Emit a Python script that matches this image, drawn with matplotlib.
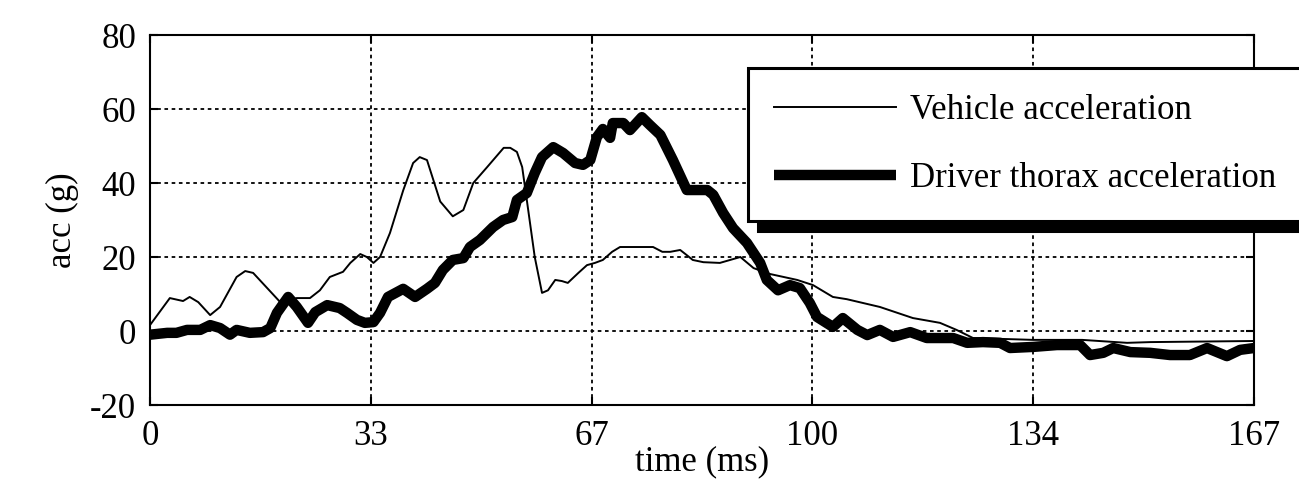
import numpy as np
import matplotlib
matplotlib.use("Agg")
import matplotlib.pyplot as plt

# time (ms) / acceleration (g)
t_vehicle = [0, 3, 5, 6, 7.3, 9.1, 10.6, 13.1, 14.4, 15.6, 19.7, 22.2, 24.2, 25.7,
             27.2, 29.2, 30.3, 31.8, 32.8, 33.8, 34.8, 36.3, 38.3, 39.8, 40.8, 41.9,
             43.9, 45.8, 47.4, 48.9, 51, 53.5, 54.5, 55.5, 56.3, 57, 58.2, 59.3,
             60.2, 61.3, 62.3, 63.2, 64.8, 66.1, 67.3, 68.5, 69.9, 71.1, 76.1, 77.5,
             78.7, 80.2, 81.2, 82.1, 83.7, 86.2, 89.3, 91.3, 93.8, 97.9, 100.3,
             103.3, 105.4, 110.4, 115.4, 119.5, 122, 124.5, 133.6, 141, 147.8,
             151.3, 167]
acc_vehicle = [1.6, 8.9, 8.1, 9.2, 7.8, 4.3, 6.5, 14.6, 16.2, 15.7, 7.8, 8.9, 8.9, 11,
               14.6, 16, 18.4, 20.8, 20, 18.4, 20, 26.5, 38, 45.4, 47, 46.2,
               35, 31, 32.7, 40, 44.3, 49.5, 49.5, 48.4, 44.3, 35.4, 20, 10.3,
               11, 13.8, 13.5, 13, 15.7, 17.8, 18.4, 19.2, 21.4, 22.7, 22.7, 21.4,
               21.4, 21.9, 20.5, 19.2, 18.6, 18.4, 20, 17, 15.4, 13.8, 12.4,
               9.2, 8.6, 6.5, 3.5, 2.2, 0.3, -1.9, -2.4, -2.4, -3.2,
               -3, -2.7]

t_thorax = [0, 2.6, 4, 5.6, 7.6, 9.1, 10.6, 12.1, 13.1, 15.1, 17.1, 18.2, 19.2, 20.9,
            22.2, 23.9, 25, 26.8, 28.7, 29.8, 31.3, 32.5, 33.8, 34.8, 36, 38.3, 40.1,
            41.9, 43.1, 44.3, 45.8, 47.4, 48.4, 49.9, 51.9, 53.4, 54.8, 55.5, 57,
            58.2, 59.3, 61, 62.5, 64.3, 65.5, 66.6, 67.6, 68.5, 69.6, 70, 71.6, 72.6,
            74.4, 75.6, 77.2, 79.1, 81.2, 84.3, 85.2, 86.7, 88.2, 90.3, 92.3, 93.3,
            95, 96.8, 98.3, 99.8, 100.9, 103.3, 104.8, 107, 108.5, 110.4, 112.4,
            115, 117.5, 121.5, 123.6, 126, 128.6, 130.1, 133.6, 137.2, 140.7,
            142.2, 144.2, 145.7, 148.3, 151.3, 154.3, 157.3, 159.9, 162.9, 164.9, 167]
acc_thorax = [-1, -0.5, -0.5, 0.3, 0.3, 1.6, 0.8, -1, 0.3, -0.5, -0.3, 0.8, 4.9, 9.2,
              6.5, 2.2, 5.1, 7, 6.2, 4.9, 3, 2.2, 2.4, 4.9, 9.2, 11.4, 9.2,
              11.4, 13, 16.5, 19.2, 19.7, 22.7, 24.6, 28.1, 30, 30.8, 35.4, 37.3,
              42.7, 47, 49.7, 48.1, 45.4, 44.9, 46.2, 52.4, 54.6, 52.2, 56.2, 56.2, 54.3,
              57.8, 55.7, 53, 46.2, 38.1, 38.1, 36.8, 31.9, 27.8, 23.8, 18.4, 13.8,
              11, 12.4, 11.6, 7.6, 3.8, 1.1, 3.5, 0.3, -1.1, 0.3, -1.6,
              -0.3, -1.9, -1.9, -3.2, -3, -3.2, -4.6, -4.3, -3.8, -3.8,
              -6.5, -5.9, -4.6, -5.7, -5.9, -6.5, -6.5, -4.6, -6.8, -5.1, -4.6]

x_ticks = np.linspace(0, 167, 6)
x_labels = ["0", "33", "67", "100", "134", "167"]
y_ticks = [-20, 0, 20, 40, 60, 80]

plt.rcParams['font.family'] = ['Liberation Serif', 'DejaVu Serif']
plt.rcParams['axes.unicode_minus'] = False

fig = plt.figure(figsize=(12.99, 4.88), dpi=100)
ax = fig.add_axes([150 / 1299, 1 - 405 / 488, 1104 / 1299, 370 / 488])

ax.plot(t_vehicle, acc_vehicle, color='black', lw=1.4, label='Vehicle acceleration')
ax.plot(t_thorax, acc_thorax, color='black', lw=7.5, label='Driver thorax acceleration',
        clip_on=False, solid_capstyle='butt')

ax.set_xlim(0, 167)
ax.set_ylim(-20, 80)
ax.set_xticks(x_ticks)
ax.set_xticklabels(x_labels)
ax.set_yticks(y_ticks)
ax.tick_params(direction='in', length=6, width=1.5, labelsize=25, pad=10,
               top=True, right=True)
ax.tick_params(axis='x', pad=11)
ax.grid(True, color='black', linestyle=(0, (2, 2)), lw=1.3)
for s in ax.spines.values():
    s.set_linewidth(1.5)

ax.set_xlabel('time (ms)', fontsize=25, labelpad=-6)
ax.set_ylabel('acc (g)', fontsize=25, labelpad=8)

leg = ax.legend(loc='upper left', bbox_to_anchor=(748 / 1299, 1 - 68 / 488),
                bbox_transform=fig.transFigure, borderaxespad=0, fontsize=25,
                handlelength=3.5, handletextpad=0.43, labelspacing=1.0,
                borderpad=0.75, fancybox=False, framealpha=1,
                shadow={'ox': 7, 'oy': -7, 'shade': 1, 'alpha': 1})
leg.get_frame().set_edgecolor('black')
leg.get_frame().set_linewidth(2.2)

fig.savefig('out.png', dpi=100)
